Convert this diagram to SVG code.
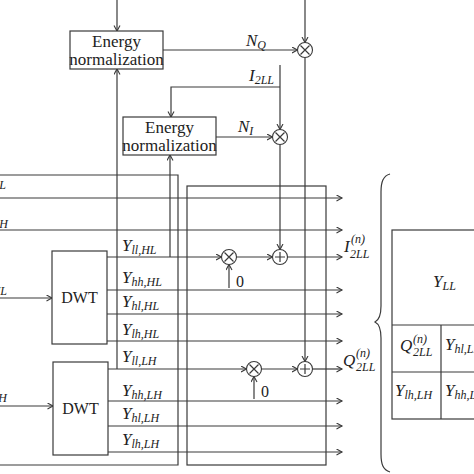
<svg xmlns="http://www.w3.org/2000/svg" width="474" height="474" viewBox="0 0 474 474">
<style>
.ln{stroke:#3a3a3a;stroke-width:1.2;fill:none}
.ar{stroke:#3a3a3a;stroke-width:1.2;fill:none;marker-end:url(#ah)}
.bx{stroke:#3a3a3a;stroke-width:1.2;fill:#fff}
.op{stroke:#3a3a3a;stroke-width:1.1;fill:#fff}
.t{font-family:"Liberation Serif","DejaVu Serif",serif;fill:#222}
.bt{font-size:17px;text-anchor:middle}
.m{font-style:italic;font-size:17px}
.s{font-size:12px}
</style>
<defs>
<marker id="ah" markerUnits="userSpaceOnUse" markerWidth="8" markerHeight="8" refX="6" refY="3.5" orient="auto">
<path d="M0.5,0.5 L6,3.5 L0.5,6.5" fill="none" stroke="#3a3a3a" stroke-width="1.1"/>
</marker>
</defs>
<rect width="474" height="474" fill="#fff"/>

<g id="connectors">
<line class="ar" x1="117" y1="0" x2="117" y2="31"/>
<line class="ar" x1="117" y1="369" x2="117" y2="69"/>
<line class="ar" x1="163" y1="50" x2="297.5" y2="50"/>
<line class="ar" x1="305" y1="0" x2="305" y2="42.5"/>
<line class="ar" x1="305" y1="57.5" x2="305" y2="361.5"/>
<line class="ar" x1="280" y1="65" x2="280" y2="129.5"/>
<polyline class="ar" points="280,87 171,87 171,117"/>
<line class="ar" x1="216" y1="137" x2="272.5" y2="137"/>
<line class="ar" x1="280" y1="144.5" x2="280" y2="249.5"/>
<line class="ar" x1="170" y1="257" x2="170" y2="155"/>
<polyline class="ln" points="0,175 178,175 178,465 0,465"/>
<rect class="ln" x="187" y="186" width="139" height="279"/>
<line class="ar" x1="0" y1="198" x2="342" y2="198"/>
<line class="ar" x1="0" y1="230" x2="342" y2="230"/>
<line class="ar" x1="0" y1="298" x2="52" y2="298"/>
<line class="ar" x1="0" y1="406" x2="53" y2="406"/>
<line class="ar" x1="107" y1="257" x2="221.5" y2="257"/>
<line class="ar" x1="236.5" y1="257" x2="272.5" y2="257"/>
<line class="ar" x1="287.5" y1="257" x2="342" y2="257"/>
<line class="ar" x1="229" y1="288" x2="229" y2="264.5"/>
<line class="ar" x1="107" y1="290" x2="342" y2="290"/>
<line class="ar" x1="107" y1="314" x2="342" y2="314"/>
<line class="ar" x1="107" y1="341" x2="342" y2="341"/>
<line class="ar" x1="108" y1="369" x2="246.5" y2="369"/>
<line class="ar" x1="261.5" y1="369" x2="297.5" y2="369"/>
<line class="ar" x1="312.5" y1="369" x2="342" y2="369"/>
<line class="ar" x1="254" y1="399" x2="254" y2="376.5"/>
<line class="ar" x1="108" y1="401" x2="342" y2="401"/>
<line class="ar" x1="108" y1="426" x2="342" y2="426"/>
<line class="ar" x1="108" y1="452" x2="342" y2="452"/>
</g>

<g id="norm-q">
<rect class="bx" x="70" y="31" width="93" height="38"/>
<text class="t bt" x="116.5" y="47">Energy</text>
<text class="t bt" x="116.5" y="65">normalization</text>
</g>
<g id="norm-i">
<rect class="bx" x="123" y="117" width="93" height="38"/>
<text class="t bt" x="169.5" y="133">Energy</text>
<text class="t bt" x="169.5" y="151">normalization</text>
</g>
<g id="dwt1">
<rect class="bx" x="52" y="251" width="55" height="93"/>
<text class="t bt" x="79.5" y="303" style="font-size:16px">DWT</text>
</g>
<g id="dwt2">
<rect class="bx" x="53" y="362" width="55" height="93"/>
<text class="t bt" x="80.5" y="414" style="font-size:16px">DWT</text>
</g>

<g id="mul-q"><circle class="op" cx="305" cy="50" r="7.5"/><path class="ln" d="M300.5,45.5 L309.5,54.5 M309.5,45.5 L300.5,54.5" stroke-width="0.9"/></g>
<g id="mul-i"><circle class="op" cx="280" cy="137" r="7.5"/><path class="ln" d="M275.5,132.5 L284.5,141.5 M284.5,132.5 L275.5,141.5" stroke-width="0.9"/></g>
<g id="mul-hl"><circle class="op" cx="229" cy="257" r="7.5"/><path class="ln" d="M224.5,252.5 L233.5,261.5 M233.5,252.5 L224.5,261.5" stroke-width="0.9"/></g>
<g id="add-hl"><circle class="op" cx="280" cy="257" r="7.5"/><path class="ln" d="M275,257 L285,257 M280,252 L280,262" stroke-width="0.9"/></g>
<g id="mul-lh"><circle class="op" cx="254" cy="369" r="7.5"/><path class="ln" d="M249.5,364.5 L258.5,373.5 M258.5,364.5 L249.5,373.5" stroke-width="0.9"/></g>
<g id="add-lh"><circle class="op" cx="305" cy="369" r="7.5"/><path class="ln" d="M300,369 L310,369 M305,364 L305,374" stroke-width="0.9"/></g>

<g id="labels">
<text class="t m" x="246" y="46">N<tspan class="s" dy="3">Q</tspan></text>
<text class="t m" x="249" y="81">I<tspan class="s" dy="3">2LL</tspan></text>
<text class="t m" x="238" y="132">N<tspan class="s" dy="3">I</tspan></text>
<text class="t" x="236" y="287" style="font-size:16px">0</text>
<text class="t" x="261" y="397" style="font-size:16px">0</text>

<text class="t m" x="6" y="186" text-anchor="end">Y<tspan class="s" dy="3">LL</tspan></text>
<text class="t m" x="8" y="225" text-anchor="end">Y<tspan class="s" dy="3">HH</tspan></text>
<text class="t m" x="7" y="292" text-anchor="end">Y<tspan class="s" dy="3">HL</tspan></text>
<text class="t m" x="7" y="399" text-anchor="end">Y<tspan class="s" dy="3">LH</tspan></text>

<text class="t m" x="122" y="251">Y<tspan class="s" dy="3">ll,HL</tspan></text>
<text class="t m" x="122" y="283">Y<tspan class="s" dy="3">hh,HL</tspan></text>
<text class="t m" x="122" y="307">Y<tspan class="s" dy="3">hl,HL</tspan></text>
<text class="t m" x="122" y="335">Y<tspan class="s" dy="3">lh,HL</tspan></text>
<text class="t m" x="122" y="362">Y<tspan class="s" dy="3">ll,LH</tspan></text>
<text class="t m" x="122" y="396">Y<tspan class="s" dy="3">hh,LH</tspan></text>
<text class="t m" x="122" y="419">Y<tspan class="s" dy="3">hl,LH</tspan></text>
<text class="t m" x="122" y="445">Y<tspan class="s" dy="3">lh,LH</tspan></text>

<text class="t m" x="344" y="252">I<tspan class="s" x="351" y="243">(n)</tspan><tspan class="s" x="350" y="258">2LL</tspan></text>
<text class="t m" x="343" y="366">Q<tspan class="s" x="356" y="357">(n)</tspan><tspan class="s" x="356" y="371">2LL</tspan></text>
</g>

<g id="brace">
<path class="ln" d="M390,174 C383,176 381,182 381,192 L381,306 C381,316 379,320 375,322 C379,324 381,328 381,338 L381,454 C381,464 383,470 390,472"/>
</g>

<g id="table">
<rect class="ln" x="392" y="230" width="100" height="189"/>
<line class="ln" x1="392" y1="325" x2="492" y2="325"/>
<line class="ln" x1="392" y1="372" x2="492" y2="372"/>
<line class="ln" x1="441" y1="325" x2="441" y2="419"/>
<text class="t m" x="433" y="287">Y<tspan class="s" dy="3">LL</tspan></text>
<text class="t m" x="400" y="351">Q<tspan class="s" x="413" y="343">(n)</tspan><tspan class="s" x="413" y="356">2LL</tspan></text>
<text class="t m" x="445" y="350">Y<tspan class="s" dy="3">hl,LH</tspan></text>
<text class="t m" x="395" y="396">Y<tspan class="s" dy="3">lh,LH</tspan></text>
<text class="t m" x="445" y="396">Y<tspan class="s" dy="3">hh,LH</tspan></text>
</g>
</svg>
